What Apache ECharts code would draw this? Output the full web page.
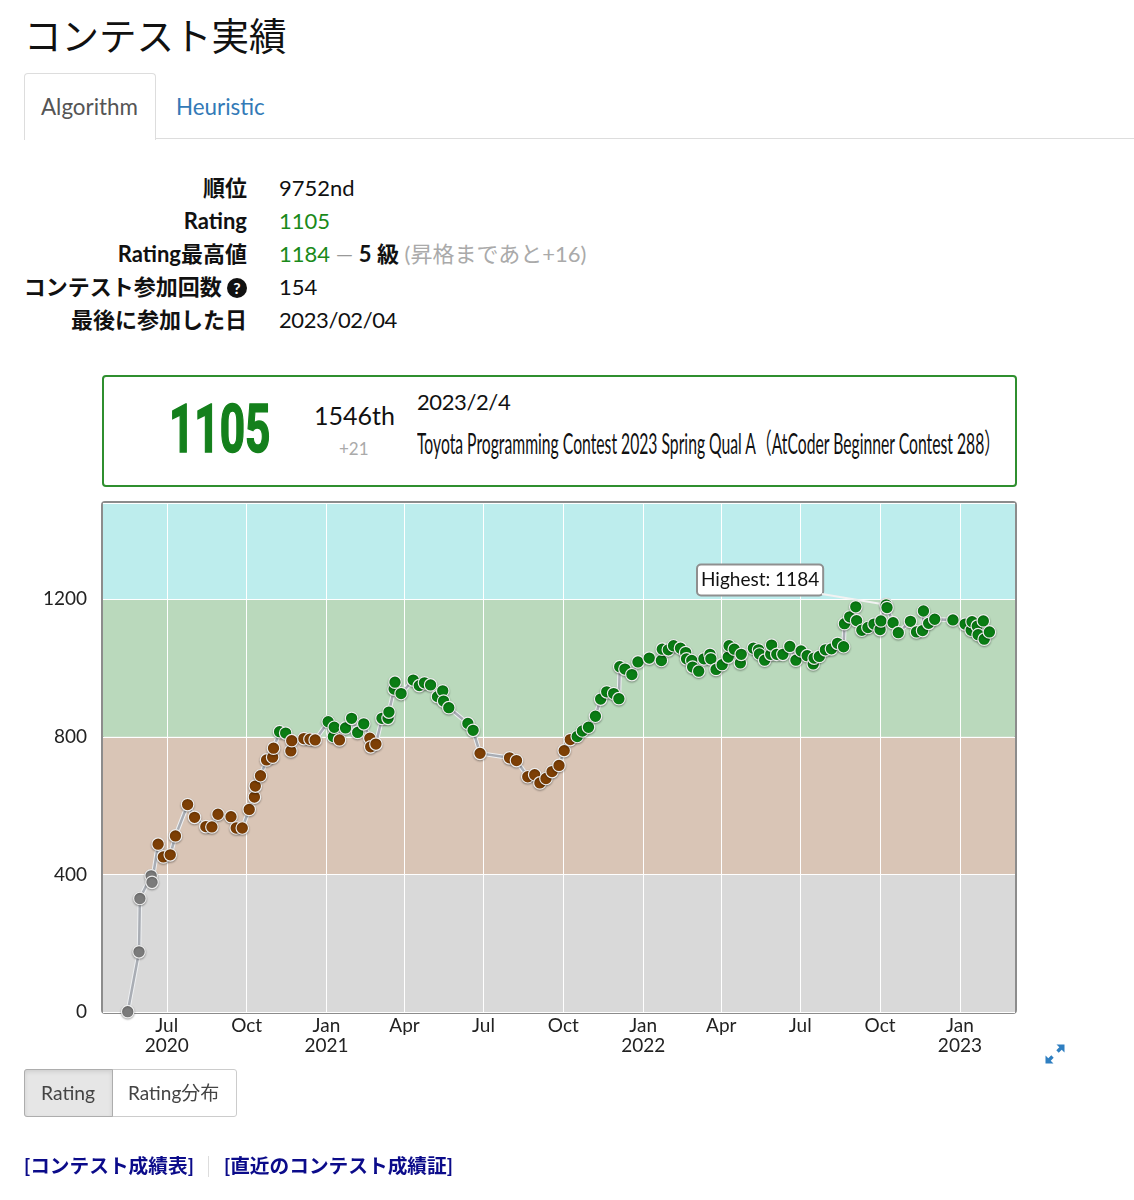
<!DOCTYPE html>
<html lang="ja"><head><meta charset="utf-8">
<script src="https://cdn.jsdelivr.net/npm/echarts@6/dist/echarts.min.js"></script>
<style>
html,body{margin:0;padding:0;background:#fff;width:1134px;height:1200px;overflow:hidden;font-family:Lato,"Noto Sans CJK JP",sans-serif;color:#111}
.a{position:absolute;white-space:nowrap;line-height:1}
.lab{right:887px;font-weight:700;font-size:22px;text-align:right}
.val{left:279px;font-size:22px}
.g{color:#1a8a1a}
#chart{position:absolute;left:0;top:490px;width:1134px;height:580px}
</style></head><body>
<div class="a" style="left:24px;top:17px;font-size:37.5px">コンテスト実績</div>
<div class="a" style="left:155px;top:138px;width:979px;height:1px;background:#ddd"></div>
<div class="a" style="left:24px;top:73px;width:130px;height:66px;box-sizing:content-box;border:1px solid #ddd;border-bottom:none;border-radius:4px 4px 0 0;background:#fff"></div>
<div class="a" style="left:41px;top:96px;font-size:22.4px;color:#555">Algorithm</div>
<div class="a" style="left:176px;top:96px;font-size:22.4px;color:#337ab7">Heuristic</div>

<div class="a lab" style="top:177px">順位</div><div class="a val" style="top:177px">9752nd</div>
<div class="a lab" style="top:210px">Rating</div><div class="a val g" style="top:210px">1105</div>
<div class="a lab" style="top:243px">Rating最高値</div>
<div class="a val" style="top:243px"><span class="g">1184</span> <span style="color:#999">—</span> <b>5 級</b> <span style="color:#aaa">(昇格まであと+16)</span></div>
<div class="a lab" style="top:276px">コンテスト参加回数 <span style="display:inline-block;width:20px;height:20px;border-radius:50%;background:#111;color:#fff;font-size:16px;line-height:20px;text-align:center;vertical-align:1px">?</span></div><div class="a val" style="top:276px">154</div>
<div class="a lab" style="top:309px">最後に参加した日</div><div class="a val" style="top:309px;letter-spacing:-.4px">2023/02/04</div>

<div class="a" style="left:102px;top:375px;width:911px;height:108px;border:2px solid #2f8f2f;border-radius:4px"></div>
<div class="a" style="left:169px;top:396px;font-family:'Liberation Sans Narrow',Roboto;font-weight:700;font-size:67px;color:#14801c;-webkit-text-stroke:1.6px #14801c;transform-origin:left top;transform:scaleX(.66)">1105</div>
<div class="a" style="left:314px;top:403px;font-size:25px">1546th</div>
<div class="a" style="left:339px;top:440px;font-size:17px;color:#aaa">+21</div>
<div class="a" style="left:417px;top:391px;font-size:22px;letter-spacing:-.4px">2023/2/4</div>
<div class="a" style="left:417px;top:429px;font-size:28px;transform-origin:left top;transform:scaleX(.561)">Toyota Programming Contest 2023 Spring Qual A（AtCoder Beginner Contest 288）</div>

<div class="a" style="left:101px;top:501px;width:910px;height:507px;border:3px solid #8c8c8c;border-radius:4px"></div>
<div id="chart"></div>

<svg class="a" style="left:1044px;top:1043px" width="22" height="22" viewBox="0 0 22 22"><g fill="#2f7fc1"><path d="M20.5 1.5v8l-2.8-2.8-3 3-2.4-2.4 3-3-2.8-2.8z"/><path d="M1.5 20.5v-8l2.8 2.8 3-3 2.4 2.4-3 3 2.8 2.8z"/></g></svg>

<div class="a" style="left:24px;top:1069px;width:211px;height:46px;border:1px solid #ccc;border-radius:3px"></div>
<div class="a" style="left:24px;top:1069px;width:87px;height:46px;border:1px solid #adadad;border-radius:3px 0 0 3px;background:#e6e6e6;box-shadow:inset 0 2px 4px rgba(0,0,0,.1)"></div>
<div class="a" style="left:41px;top:1083px;font-size:19.3px;color:#444">Rating</div>
<div class="a" style="left:128px;top:1083px;font-size:19px;color:#444">Rating分布</div>
<div class="a" style="left:24px;top:1156px;font-size:19.7px;font-weight:700;color:#0b0b8a">[コンテスト成績表]</div>
<div class="a" style="left:208px;top:1156px;width:1px;height:21px;background:#ddd"></div>
<div class="a" style="left:224px;top:1156px;font-size:19.7px;font-weight:700;color:#0b0b8a">[直近のコンテスト成績証]</div>

<script>
const contestDates = [
"2020-05-17","2020-05-30","2020-05-31","2020-06-13","2020-06-14","2020-06-21","2020-06-27","2020-07-05","2020-07-11","2020-07-25",
"2020-08-02","2020-08-15","2020-08-22","2020-08-29","2020-09-13","2020-09-19","2020-09-26","2020-10-04","2020-10-10","2020-10-11",
"2020-10-17","2020-10-24","2020-10-31","2020-11-01","2020-11-08","2020-11-15","2020-11-21","2020-11-22","2020-12-06","2020-12-13",
"2020-12-19","2021-01-03","2021-01-09","2021-01-10","2021-01-16","2021-01-23","2021-01-30","2021-02-06","2021-02-13","2021-02-20",
"2021-02-21","2021-02-27","2021-03-06","2021-03-13","2021-03-14","2021-03-20","2021-03-21","2021-03-28","2021-04-11","2021-04-18",
"2021-04-24","2021-05-01","2021-05-09","2021-05-15","2021-05-16","2021-05-22","2021-06-13","2021-06-19","2021-06-27","2021-07-31",
"2021-08-08","2021-08-21","2021-08-29","2021-09-04","2021-09-11","2021-09-18","2021-09-26","2021-10-02","2021-10-09","2021-10-17",
"2021-10-23","2021-10-30","2021-11-07","2021-11-13","2021-11-20","2021-11-28","2021-12-04","2021-12-05","2021-12-11","2021-12-19",
"2021-12-26","2022-01-08","2022-01-22","2022-01-23","2022-01-30","2022-02-05","2022-02-13","2022-02-19","2022-02-20","2022-02-26",
"2022-02-27","2022-03-06","2022-03-12","2022-03-19","2022-03-20","2022-03-26","2022-04-02","2022-04-09","2022-04-10","2022-04-16",
"2022-04-23","2022-04-24","2022-05-08","2022-05-14","2022-05-15","2022-05-21","2022-05-28","2022-05-29","2022-06-04","2022-06-11",
"2022-06-19","2022-06-26","2022-07-02","2022-07-09","2022-07-16","2022-07-17","2022-07-23","2022-07-30","2022-08-06","2022-08-13",
"2022-08-20","2022-08-21","2022-08-27","2022-09-03","2022-09-04","2022-09-10","2022-09-17","2022-09-24","2022-10-01","2022-10-02",
"2022-10-08","2022-10-09","2022-10-16","2022-10-22","2022-11-05","2022-11-12","2022-11-19","2022-11-20","2022-11-26","2022-12-03",
"2022-12-24","2023-01-07","2023-01-14","2023-01-15","2023-01-21","2023-01-22","2023-01-28","2023-01-29","2023-02-04"];
const ratings = [
1,175,330,396,377,488,451,457,512,603,
566,539,538,575,568,535,535,589,625,657,
687,733,741,767,815,811,759,789,795,793,
791,844,801,828,791,826,854,813,838,796,
771,779,854,854,872,939,959,926,965,949,
957,951,917,934,904,885,839,819,752,739,
731,684,690,666,679,699,717,760,792,801,
817,828,860,910,931,926,911,1004,997,981,
1018,1029,1022,1055,1053,1065,1058,1045,1027,1022,
1003,991,1027,1040,1027,996,1010,1032,1065,1055,
1015,1040,1058,1053,1041,1023,1040,1067,1040,1040,
1063,1023,1050,1036,1012,1029,1034,1053,1056,1072,
1062,1129,1149,1178,1138,1110,1118,1128,1112,1137,
1184,1176,1132,1103,1136,1105,1109,1166,1130,1142,
1140,1128,1110,1135,1122,1097,1137,1084,1105];
const highestDate = ["2022-10-08"];
const highestValue = [1184];
const highestLabel = "Highest: 1184";
const xMinDate = "2020-04-18T12:00:00Z", xMaxDate = "2023-03-05T12:00:00Z";
const xTickDates = ["2020-07-01","2020-10-01","2021-01-01","2021-04-01","2021-07-01","2021-10-01","2022-01-01","2022-04-01","2022-07-01","2022-10-01","2023-01-01"];
const xTickLabels = ["Jul\n2020","Oct","Jan\n2021","Apr","Jul","Oct","Jan\n2022","Apr","Jul","Oct","Jan\n2023"];
const yTicks = [0,400,800,1200];
const tierLimits = [400,800];
const tierColors = ["#7b7b7b","#7d3f05","#0a7d14"];
const bandColors = ["#d9d9d9","#d9c5b6","#bad9bc","#bdeded"];

const t = s => Date.parse(s);
const points = contestDates.map((d,i)=>[t(d),ratings[i]]);
const xTickTimes = xTickDates.map(t);
const tierColor = v => v<tierLimits[0]?tierColors[0]:v<tierLimits[1]?tierColors[1]:tierColors[2];

const chart = echarts.init(document.getElementById('chart'),null,{renderer:'canvas'});
chart.setOption({
  animation:false,
  grid:{left:103,right:119,top:13,height:509,show:false},
  textStyle:{fontFamily:'Lato, sans-serif'},
  xAxis:{type:'value',min:t(xMinDate),max:t(xMaxDate),
    axisLine:{show:false},
    axisTick:{show:false,customValues:xTickTimes},
    splitLine:{show:true,lineStyle:{color:'#ffffff',width:1}},
    axisLabel:{customValues:xTickTimes,color:'#222',fontSize:19,lineHeight:20,margin:4,hideOverlap:false,
      formatter:v=>xTickLabels[xTickTimes.indexOf(v)]||''}},
  yAxis:{type:'value',min:0,max:1480,interval:400,
    axisLine:{show:false},axisTick:{show:false},
    splitLine:{show:true,lineStyle:{color:'#ffffff',width:1}},
    splitArea:{show:true,areaStyle:{color:bandColors}},
    axisLabel:{color:'#222',fontSize:19,margin:16,showMaxLabel:false,padding:[2,0,0,0],
      formatter:v=>yTicks.includes(v)?String(v):''}},
  series:[
    {type:'line',data:points,symbol:'none',clip:false,z:2,silent:true,lineStyle:{color:'#eef0f2',width:4.5}},
    {type:'line',data:points,symbol:'none',clip:false,z:3,silent:true,lineStyle:{color:'#a9adb4',width:2.5}},
    {type:'scatter',data:highestDate.map((d,i)=>[t(d),highestValue[i]]),clip:false,z:4,symbolSize:13.5,
      itemStyle:{color:'#152015',opacity:1,borderColor:'#e8e8e8',borderWidth:1},
      label:{show:true,opacity:1,formatter:highestLabel,position:'top',color:'#111',fontSize:19,fontFamily:'Lato, sans-serif',
        backgroundColor:'#fff',borderColor:'#8f8f8f',borderWidth:2,borderRadius:3,padding:[5,3,5,3]},
      labelLayout:{x:698,y:90,align:'left',verticalAlign:'middle'},
      markLine:{silent:true,symbol:'none',label:{show:false},lineStyle:{color:'#f2f2f2',width:2,type:'solid',opacity:1},
        data:[[{xAxis:t(highestDate[0]),yAxis:highestValue[0]},{x:822,y:104}]]}},
    {type:'scatter',data:points,clip:false,z:5,symbolSize:12.5,
      itemStyle:{color:p=>tierColor(p.value[1]),opacity:1,borderColor:'#eeeeee',borderWidth:1.2,
        shadowColor:'rgba(0,0,0,.3)',shadowBlur:2,shadowOffsetY:1}}
  ]
});
</script>
</body></html>
